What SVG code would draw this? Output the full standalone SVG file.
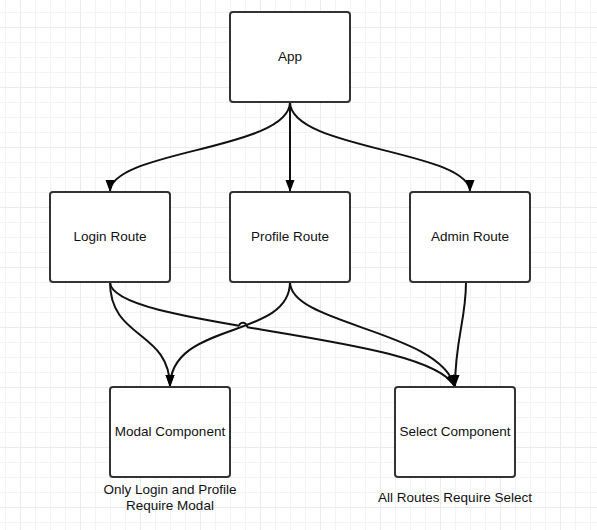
<svg xmlns="http://www.w3.org/2000/svg" width="597" height="530" viewBox="0 0 597 530">
<defs>
<pattern id="minor" x="5" y="12" width="15" height="15" patternUnits="userSpaceOnUse">
<path d="M0.5,0 V15 M0,0.5 H15" stroke="#f3f3f3" stroke-width="1" fill="none"/>
</pattern>
<pattern id="major" x="20" y="27" width="60" height="60" patternUnits="userSpaceOnUse">
<path d="M0.5,0 V60 M0,0.5 H60" stroke="#ebebeb" stroke-width="1" fill="none"/>
</pattern>
<marker id="arrow" markerWidth="13" markerHeight="11" refX="12" refY="5.5" orient="auto" markerUnits="userSpaceOnUse">
<path d="M0,1 L12,5.5 L0,10 Z" fill="#000"/>
</marker>
<mask id="hop" maskUnits="userSpaceOnUse" x="0" y="0" width="597" height="530">
<rect x="0" y="0" width="597" height="530" fill="#fff"/>
<circle cx="243" cy="326.5" r="4" fill="#000"/>
</mask>
<style>
.box{fill:#fff;stroke:#333;stroke-width:2}
.lbl{font-family:"Liberation Sans",Arial,Helvetica,sans-serif;font-size:13.5px;fill:#111;text-anchor:middle}
.edge{fill:none;stroke:#111;stroke-width:2}
</style>
</defs>
<rect x="0" y="0" width="597" height="530" fill="#fff"/>
<rect x="0" y="0" width="597" height="530" fill="url(#minor)"/>
<rect x="0" y="0" width="597" height="530" fill="url(#major)"/>

<g id="connectors">
<path class="edge" d="M290,102 C290,150 110,150 110,192" marker-end="url(#arrow)"/>
<path class="edge" d="M290,102 L290,192" marker-end="url(#arrow)"/>
<path class="edge" d="M290,102 C290,150 470,150 470,192" marker-end="url(#arrow)"/>
<path class="edge" d="M110,282 C110,340 170,330 170,387" marker-end="url(#arrow)"/>
<path class="edge" d="M290,282 C290,340 170,320 170,387" marker-end="url(#arrow)"/>
<path class="edge" d="M110,282 C110,328 430,333 455,387" mask="url(#hop)" marker-end="url(#arrow)"/>
<path class="edge" d="M239.06,325.83 A4,4 0 0,1 246.94,327.17"/>
<path class="edge" d="M290,282 C290,325 440,330 455,387" marker-end="url(#arrow)"/>
<path class="edge" d="M466,282 C466,320 455,340 455,387" marker-end="url(#arrow)"/>
</g>

<g id="app">
<rect class="box" x="230" y="12" width="120" height="90" rx="3"/>
<text class="lbl" x="290" y="60.5">App</text>
</g>
<g id="login-route">
<rect class="box" x="50" y="192" width="120" height="90" rx="3"/>
<text class="lbl" x="110" y="240.5">Login Route</text>
</g>
<g id="profile-route">
<rect class="box" x="230" y="192" width="120" height="90" rx="3"/>
<text class="lbl" x="290" y="240.5">Profile Route</text>
</g>
<g id="admin-route">
<rect class="box" x="410" y="192" width="120" height="90" rx="3"/>
<text class="lbl" x="470" y="240.5">Admin Route</text>
</g>
<g id="modal-component">
<rect class="box" x="110" y="387" width="120" height="90" rx="3"/>
<text class="lbl" x="170" y="435.5">Modal Component</text>
<text class="lbl" x="170" y="494">Only Login and Profile</text>
<text class="lbl" x="170" y="510">Require Modal</text>
</g>
<g id="select-component">
<rect class="box" x="395" y="387" width="120" height="90" rx="3"/>
<text class="lbl" x="455" y="435.5">Select Component</text>
<text class="lbl" x="455" y="501.5">All Routes Require Select</text>
</g>
</svg>
